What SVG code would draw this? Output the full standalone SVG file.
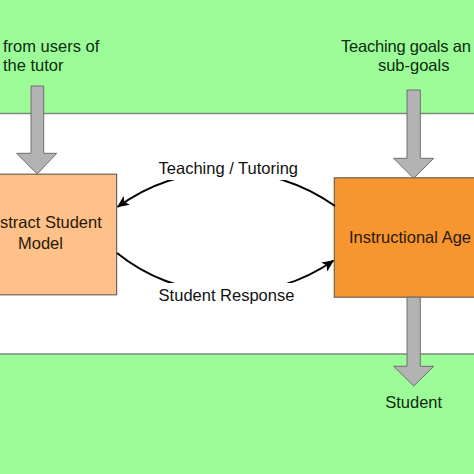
<svg xmlns="http://www.w3.org/2000/svg" width="474" height="474" viewBox="0 0 474 474">
<style>
.band{fill:#9cfd98;}
.bandline{stroke:#7a8a7a;stroke-width:1.5;}
.big{fill:#b3b3b3;stroke:#6e6e6e;stroke-width:1;}
.box{stroke:#6e6256;stroke-width:1.2;}
.t{font-family:"Liberation Sans",Arial,sans-serif;font-size:16.5px;}
.tg{fill:#0f2a10;}
.tb{fill:#2a1806;}
.tm{fill:#111;}
.conn{fill:none;stroke:#000;stroke-width:2;}
.lbl{fill:#fff;}
</style>
<defs>
<marker id="ah" viewBox="0 0 10 10" refX="9.5" refY="5" markerWidth="6" markerHeight="6" markerUnits="strokeWidth" orient="auto">
<path d="M0,0.5 L10,5 L0,9.5 L2.5,5 Z" fill="#000"/>
</marker>
</defs>
<rect width="474" height="474" fill="#fff"/>
<g id="top-band">
<rect class="band" x="0" y="0" width="474" height="113.5"/>
<line class="bandline" x1="0" y1="113.5" x2="474" y2="113.5"/>
</g>
<g id="bottom-band">
<rect class="band" x="0" y="354" width="474" height="120"/>
<line class="bandline" x1="0" y1="354" x2="474" y2="354"/>
</g>
<g id="input-users">
<text class="t tg" x="3" y="51.5">from users of</text>
<text class="t tg" x="3" y="71">the tutor</text>
</g>
<g id="input-goals">
<text class="t tg" x="341" y="52" letter-spacing="-0.2">Teaching goals an</text>
<text class="t tg" x="413.7" y="71" text-anchor="middle">sub-goals</text>
</g>
<g id="output-student">
<text class="t tg" x="413.7" y="408" text-anchor="middle">Student</text>
</g>
<g id="abstract-student-model">
<rect class="box" x="-40" y="174.2" width="156.6" height="120.6" fill="#fdc189"/>
<text class="t tb" x="0" y="228">stract Student</text>
<text class="t tb" x="40.5" y="249" text-anchor="middle">Model</text>
</g>
<g id="instructional-agent">
<rect class="box" x="334.3" y="177.8" width="180" height="119.4" fill="#f7962f"/>
<text class="t tb" x="349" y="243">Instructional Age</text>
</g>
<g id="block-arrows">
<polygon class="big" points="31,86 43.7,86 43.7,153.3 56.7,153.3 37.2,174 16.7,153.3 31,153.3"/>
<polygon class="big" points="407,90 420.3,90 420.3,158.3 433.7,158.3 413.7,178.3 393.7,158.3 407,158.3"/>
<polygon class="big" points="407,297.2 420.3,297.2 420.3,366.3 433.7,366.3 413.7,386 393.7,366.3 407,366.3"/>
</g>
<g id="connectors">
<path class="conn" d="M335,206 A187.4,187.4 0 0 0 117.5,207" marker-end="url(#ah)"/>
<path class="conn" d="M117,253 A180.5,180.5 0 0 0 333.5,260.5" marker-end="url(#ah)"/>
<rect class="lbl" x="154" y="157" width="150" height="23"/>
<text class="t tm" x="228.3" y="174" text-anchor="middle">Teaching / Tutoring</text>
<rect class="lbl" x="155" y="283" width="144" height="22"/>
<text class="t tm" x="226.5" y="300.5" text-anchor="middle">Student Response</text>
</g>
</svg>
